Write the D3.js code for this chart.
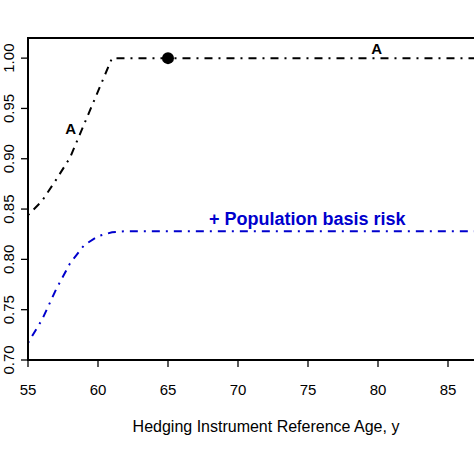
<html>
<head>
<style>
  body{margin:0;background:#fff}
  svg text{font-family:"Liberation Sans",Arial,Helvetica,sans-serif}
</style>
</head>
<body>
<div id="chart"></div>
<script src="https://d3js.org/d3.v7.min.js"></script>
<script>

// values
var ages   = [55, 56, 57, 58, 59, 60, 61, 62, 65, 70, 75, 80, 85, 90];
var noRisk = [0.844, 0.858, 0.879, 0.901, 0.934, 0.967, 1.000, 1.000, 1.000, 1.000, 1.000, 1.000, 1.000, 1.000];
var popRisk = [0.717, 0.740, 0.770, 0.796, 0.814, 0.823, 0.827, 0.828, 0.828, 0.828, 0.828, 0.828, 0.828, 0.828];
var xTicks = [55, 60, 65, 70, 75, 80, 85];
var yTicks = [0.70, 0.75, 0.80, 0.85, 0.90, 0.95, 1.00];
var marker = {age: 65, value: 1.00};
var notes = [
  {age: 58.05, value: 0.930, text: 'A', color: 'black', size: 15},
  {age: 79.9,  value: 1.009, text: 'A', color: 'black', size: 15},
  {age: 74.95, value: 0.841, text: '+ Population basis risk', color: '#0000CD', size: 18}
];

(function () {
  var
    width  = 474,
    height = 474,
    left   = 28,
    right  = 504,
    top    = 38,
    bottom = 360,
    x = d3.scaleLinear().domain([55, 89]).range([left, right]),
    y = d3.scaleLinear().domain([0.70, 1.02]).range([bottom, top]),
    svg = d3.select('#chart').append('svg')
      .attr('width', width)
      .attr('height', height);

  svg.append('clipPath').attr('id', 'plotclip')
    .append('rect')
      .attr('x', left).attr('y', top)
      .attr('width', right - left).attr('height', bottom - top);

  var plot = svg.append('g').attr('clip-path', 'url(#plotclip)');

  var line = d3.line()
    .x(function (d) { return x(d[0]); })
    .y(function (d) { return y(d[1]); });

  // black: no basis risk
  plot.append('path')
    .attr('d', line(d3.zip(ages, noRisk)))
    .style('fill', 'none')
    .style('stroke', 'black')
    .style('stroke-width', '2px')
    .style('stroke-dasharray', '2,6,8,6');

  // blue: population basis risk
  plot.append('path')
    .attr('d', line(d3.zip(ages, popRisk)))
    .style('fill', 'none')
    .style('stroke', '#0000CD')
    .style('stroke-width', '2px')
    .style('stroke-dasharray', '2,6,8,6');

  plot.append('circle')
    .attr('cx', x(marker.age))
    .attr('cy', y(marker.value))
    .attr('r', 6)
    .style('fill', 'black');

  plot.selectAll('text.note')
    .data(notes)
    .enter().append('text')
      .attr('class', 'note')
      .attr('x', function (d) { return x(d.age); })
      .attr('y', function (d) { return y(d.value); })
      .attr('dy', '0.36em')
      .attr('text-anchor', 'middle')
      .style('font-weight', 'bold')
      .style('font-size', function (d) { return d.size + 'px'; })
      .style('fill', function (d) { return d.color; })
      .text(function (d) { return d.text; });

  // box
  svg.append('rect')
    .attr('x', left).attr('y', top)
    .attr('width', right - left).attr('height', bottom - top)
    .style('fill', 'none')
    .style('stroke', 'black')
    .style('stroke-width', '2px');

  // x axis
  var xa = svg.append('g');
  xa.selectAll('line')
    .data(xTicks)
    .enter().append('line')
      .attr('x1', function (d) { return x(d); })
      .attr('x2', function (d) { return x(d); })
      .attr('y1', bottom)
      .attr('y2', bottom + 7)
      .style('stroke', 'black')
      .style('stroke-width', '1.3px');
  xa.selectAll('text')
    .data(xTicks)
    .enter().append('text')
      .attr('x', function (d) { return x(d); })
      .attr('y', 395)
      .attr('text-anchor', 'middle')
      .style('font-size', '15px')
      .text(function (d) { return d; });

  // y axis, rotated labels hugging the left edge
  var ya = svg.append('g');
  ya.selectAll('line')
    .data(yTicks)
    .enter().append('line')
      .attr('x1', left - 7)
      .attr('x2', left)
      .attr('y1', function (d) { return y(d); })
      .attr('y2', function (d) { return y(d); })
      .style('stroke', 'black')
      .style('stroke-width', '1.3px');
  ya.selectAll('text')
    .data(yTicks)
    .enter().append('text')
      .attr('transform', function (d) { return 'translate(14,' + y(d) + ') rotate(-90)'; })
      .attr('text-anchor', 'middle')
      .style('font-size', '15px')
      .text(function (d) { return d.toFixed(2); });

  svg.append('text')
    .attr('x', (left + right) / 2)
    .attr('y', 432)
    .attr('text-anchor', 'middle')
    .style('font-size', '16px')
    .text('Hedging Instrument Reference Age, y');
})();
</script>
</body>
</html>
